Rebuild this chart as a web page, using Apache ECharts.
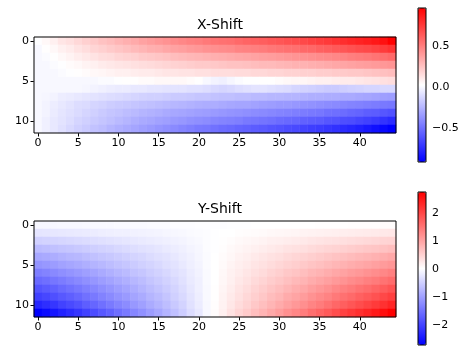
<!DOCTYPE html>
<html>
<head>
<meta charset="utf-8">
<script src="https://cdn.jsdelivr.net/npm/echarts@6/dist/echarts.min.js"></script>
<style>html,body{margin:0;padding:0;background:#fff}#c{width:474px;height:354px}</style>
</head>
<body>
<div id="c"></div>
<script>
const cols = ['0','1','2','3','4','5','6','7','8','9','10','11','12','13','14','15','16','17','18','19','20','21','22','23','24','25','26','27','28','29','30','31','32','33','34','35','36','37','38','39','40','41','42','43','44'];
const rows = ['0','1','2','3','4','5','6','7','8','9','10','11'];
const xTickLabels = ['0','5','10','15','20','25','30','35','40'];
const yTickLabels = ['0','5','10'];
const xShiftBarTicks = [-0.5, 0, 0.5];
const yShiftBarTicks = [-2, -1, 0, 1, 2];
const xShiftRange = [-0.92, 0.97];
const yShiftRange = [-2.7, 2.75];

const xShift = [
[0.02,0.05,0.08,0.12,0.14,0.17,0.2,0.22,0.25,0.27,0.3,0.32,0.34,0.37,0.39,0.41,0.43,0.45,0.47,0.49,0.5,0.52,0.54,0.55,0.56,0.58,0.6,0.61,0.62,0.64,0.65,0.67,0.68,0.7,0.72,0.74,0.76,0.78,0.8,0.82,0.84,0.86,0.88,0.91,0.97],
[0.0,0.03,0.05,0.08,0.1,0.13,0.15,0.18,0.2,0.22,0.24,0.26,0.28,0.3,0.32,0.33,0.35,0.37,0.38,0.4,0.41,0.43,0.44,0.45,0.46,0.48,0.49,0.5,0.51,0.53,0.54,0.55,0.56,0.58,0.59,0.61,0.62,0.64,0.65,0.67,0.69,0.7,0.72,0.75,0.78],
[0.0,0.01,0.03,0.05,0.07,0.09,0.11,0.13,0.15,0.16,0.18,0.19,0.2,0.22,0.23,0.24,0.25,0.27,0.28,0.29,0.3,0.31,0.32,0.33,0.34,0.35,0.36,0.37,0.38,0.39,0.4,0.41,0.42,0.43,0.44,0.45,0.46,0.47,0.48,0.5,0.51,0.52,0.54,0.56,0.58],
[0,0,0.01,0.02,0.04,0.05,0.07,0.08,0.1,0.11,0.12,0.13,0.14,0.15,0.16,0.17,0.18,0.19,0.2,0.21,0.22,0.22,0.23,0.24,0.25,0.25,0.26,0.27,0.28,0.28,0.29,0.3,0.31,0.31,0.32,0.33,0.34,0.35,0.36,0.37,0.38,0.39,0.4,0.41,0.42],
[0,0,0,0.01,0.02,0.03,0.04,0.05,0.06,0.07,0.08,0.08,0.09,0.1,0.1,0.11,0.12,0.12,0.13,0.13,0.14,0.14,0.15,0.15,0.15,0.16,0.16,0.17,0.17,0.18,0.18,0.19,0.19,0.2,0.2,0.21,0.21,0.22,0.22,0.23,0.23,0.24,0.25,0.26,0.27],
[0,0,0,0,0,0,0,0,0.01,0.01,0.02,0.03,0.03,0.04,0.04,0.05,0.05,0.05,0.05,0.04,0.03,0.0,-0.02,-0.03,-0.01,0.01,0.02,0.02,0.03,0.03,0.04,0.05,0.06,0.06,0.07,0.08,0.08,0.09,0.1,0.1,0.11,0.12,0.13,0.14,0.15],
[0,0,0,0,0,0,-0.01,-0.02,-0.03,-0.04,-0.05,-0.05,-0.06,-0.06,-0.07,-0.07,-0.08,-0.08,-0.08,-0.09,-0.09,-0.1,-0.12,-0.13,-0.12,-0.1,-0.09,-0.08,-0.08,-0.09,-0.1,-0.11,-0.13,-0.14,-0.15,-0.16,-0.17,-0.17,-0.16,-0.15,-0.14,-0.13,-0.13,-0.12,-0.12],
[0,-0.01,-0.02,-0.04,-0.05,-0.06,-0.07,-0.08,-0.09,-0.1,-0.11,-0.12,-0.13,-0.14,-0.15,-0.15,-0.16,-0.17,-0.17,-0.18,-0.19,-0.19,-0.2,-0.21,-0.21,-0.22,-0.22,-0.23,-0.23,-0.24,-0.24,-0.25,-0.25,-0.26,-0.27,-0.27,-0.28,-0.28,-0.29,-0.29,-0.3,-0.31,-0.32,-0.33,-0.34],
[0,-0.02,-0.04,-0.06,-0.08,-0.1,-0.11,-0.13,-0.14,-0.16,-0.17,-0.18,-0.19,-0.2,-0.21,-0.22,-0.23,-0.24,-0.25,-0.26,-0.27,-0.28,-0.28,-0.29,-0.3,-0.31,-0.31,-0.32,-0.33,-0.34,-0.35,-0.35,-0.36,-0.37,-0.38,-0.39,-0.4,-0.41,-0.42,-0.43,-0.44,-0.45,-0.46,-0.47,-0.48],
[0,-0.02,-0.05,-0.07,-0.09,-0.11,-0.13,-0.15,-0.17,-0.19,-0.2,-0.22,-0.23,-0.25,-0.26,-0.27,-0.29,-0.3,-0.31,-0.32,-0.33,-0.34,-0.35,-0.36,-0.37,-0.38,-0.39,-0.4,-0.41,-0.42,-0.43,-0.44,-0.45,-0.46,-0.47,-0.48,-0.5,-0.51,-0.52,-0.54,-0.55,-0.57,-0.58,-0.6,-0.62],
[0,-0.03,-0.06,-0.08,-0.1,-0.13,-0.15,-0.17,-0.19,-0.21,-0.23,-0.25,-0.27,-0.29,-0.3,-0.32,-0.33,-0.35,-0.36,-0.38,-0.39,-0.4,-0.42,-0.43,-0.44,-0.45,-0.47,-0.48,-0.49,-0.5,-0.52,-0.53,-0.54,-0.56,-0.57,-0.58,-0.6,-0.61,-0.63,-0.64,-0.66,-0.68,-0.7,-0.73,-0.76],
[0.0,-0.03,-0.06,-0.09,-0.12,-0.15,-0.17,-0.2,-0.22,-0.25,-0.27,-0.29,-0.31,-0.33,-0.35,-0.37,-0.39,-0.41,-0.43,-0.45,-0.47,-0.48,-0.5,-0.52,-0.53,-0.55,-0.56,-0.58,-0.59,-0.61,-0.62,-0.64,-0.65,-0.67,-0.69,-0.7,-0.72,-0.74,-0.76,-0.78,-0.8,-0.83,-0.86,-0.89,-0.92]
];

const yShift = [
[-0.06,-0.06,-0.06,-0.05,-0.05,-0.05,-0.04,-0.04,-0.04,-0.04,-0.03,-0.03,-0.03,-0.03,-0.02,-0.02,-0.02,-0.01,-0.01,-0.01,0,0,0,0,0.01,0.01,0.01,0.02,0.02,0.02,0.02,0.03,0.03,0.03,0.03,0.04,0.04,0.04,0.04,0.05,0.05,0.05,0.05,0.06,0.06],
[-0.25,-0.24,-0.23,-0.22,-0.21,-0.2,-0.19,-0.18,-0.16,-0.15,-0.14,-0.13,-0.12,-0.11,-0.1,-0.09,-0.07,-0.06,-0.05,-0.03,-0.02,-0.01,0.01,0.02,0.03,0.05,0.06,0.07,0.08,0.1,0.11,0.12,0.13,0.15,0.16,0.17,0.18,0.2,0.21,0.22,0.23,0.24,0.25,0.27,0.28],
[-0.47,-0.45,-0.43,-0.41,-0.39,-0.37,-0.35,-0.33,-0.31,-0.29,-0.26,-0.24,-0.22,-0.2,-0.18,-0.16,-0.14,-0.11,-0.09,-0.06,-0.04,-0.01,0.01,0.04,0.06,0.09,0.11,0.13,0.15,0.18,0.2,0.22,0.24,0.26,0.29,0.31,0.33,0.35,0.37,0.39,0.41,0.43,0.45,0.48,0.5],
[-0.7,-0.67,-0.64,-0.61,-0.58,-0.55,-0.52,-0.49,-0.46,-0.43,-0.39,-0.36,-0.33,-0.3,-0.27,-0.24,-0.2,-0.17,-0.13,-0.09,-0.06,-0.01,0.01,0.05,0.09,0.12,0.15,0.19,0.22,0.25,0.28,0.32,0.35,0.37,0.41,0.44,0.47,0.5,0.53,0.56,0.59,0.62,0.65,0.68,0.72],
[-0.92,-0.88,-0.85,-0.8,-0.76,-0.73,-0.68,-0.64,-0.6,-0.56,-0.52,-0.48,-0.43,-0.4,-0.35,-0.31,-0.27,-0.22,-0.17,-0.12,-0.07,-0.02,0.02,0.07,0.11,0.16,0.2,0.25,0.29,0.33,0.37,0.42,0.46,0.49,0.54,0.58,0.62,0.67,0.7,0.74,0.78,0.82,0.86,0.9,0.95],
[-1.12,-1.08,-1.03,-0.97,-0.93,-0.88,-0.83,-0.78,-0.73,-0.68,-0.63,-0.58,-0.53,-0.48,-0.43,-0.38,-0.32,-0.27,-0.21,-0.15,-0.09,-0.02,0.02,0.08,0.14,0.2,0.24,0.3,0.35,0.4,0.45,0.51,0.55,0.6,0.66,0.7,0.75,0.81,0.85,0.9,0.94,0.99,1.04,1.09,1.15],
[-1.35,-1.3,-1.24,-1.17,-1.12,-1.07,-1.0,-0.95,-0.88,-0.82,-0.76,-0.7,-0.63,-0.58,-0.51,-0.46,-0.39,-0.32,-0.26,-0.18,-0.11,-0.03,0.03,0.1,0.17,0.23,0.29,0.36,0.41,0.48,0.54,0.61,0.66,0.72,0.79,0.84,0.9,0.97,1.02,1.08,1.13,1.19,1.24,1.31,1.38],
[-1.57,-1.51,-1.44,-1.37,-1.3,-1.24,-1.16,-1.1,-1.02,-0.96,-0.88,-0.82,-0.74,-0.68,-0.6,-0.53,-0.46,-0.38,-0.3,-0.2,-0.13,-0.03,0.03,0.11,0.19,0.27,0.34,0.42,0.48,0.56,0.62,0.7,0.77,0.83,0.91,0.98,1.04,1.12,1.18,1.25,1.31,1.38,1.44,1.52,1.6],
[-1.8,-1.73,-1.66,-1.57,-1.49,-1.42,-1.33,-1.26,-1.17,-1.1,-1.01,-0.94,-0.85,-0.77,-0.68,-0.61,-0.52,-0.43,-0.34,-0.23,-0.14,-0.04,0.04,0.13,0.22,0.31,0.39,0.48,0.56,0.65,0.72,0.81,0.89,0.96,1.05,1.13,1.2,1.3,1.37,1.44,1.52,1.59,1.67,1.76,1.85],
[-2.02,-1.94,-1.86,-1.76,-1.68,-1.6,-1.49,-1.41,-1.31,-1.23,-1.13,-1.05,-0.95,-0.87,-0.77,-0.69,-0.59,-0.48,-0.38,-0.26,-0.16,-0.04,0.04,0.15,0.25,0.35,0.44,0.54,0.62,0.73,0.81,0.92,1.0,1.08,1.19,1.27,1.35,1.46,1.54,1.62,1.71,1.79,1.87,1.98,2.08],
[-2.3,-2.21,-2.12,-2.0,-1.91,-1.82,-1.7,-1.61,-1.5,-1.4,-1.29,-1.2,-1.08,-0.99,-0.87,-0.78,-0.67,-0.55,-0.44,-0.3,-0.18,-0.05,0.05,0.16,0.28,0.4,0.49,0.61,0.71,0.82,0.92,1.03,1.13,1.22,1.34,1.43,1.53,1.65,1.74,1.83,1.93,2.02,2.12,2.23,2.35],
[-2.7,-2.59,-2.48,-2.35,-2.24,-2.13,-2.0,-1.89,-1.76,-1.65,-1.51,-1.4,-1.27,-1.16,-1.03,-0.92,-0.78,-0.65,-0.51,-0.35,-0.22,-0.05,0.06,0.19,0.33,0.47,0.58,0.72,0.83,0.96,1.07,1.21,1.32,1.43,1.57,1.68,1.79,1.93,2.04,2.15,2.26,2.37,2.48,2.61,2.75]
];

function toCells(m) {
  const out = [];
  m.forEach((row, r) => row.forEach((v, c) => out.push([c, r, v])));
  return out;
}
const FONT = 'DejaVu Sans';
const minus = s => String(s).replace('-', '\u2212');
const bwr = ['#0000ff', '#ffffff', '#ff0000'];

function catX(gi) {
  return {
    type: 'category', gridIndex: gi, data: cols, boundaryGap: true,
    axisLine: { show: false },
    axisTick: { show: true, alignWithLabel: true, length: 3.5, interval: (i, v) => xTickLabels.includes(v), lineStyle: { color: '#000', width: 1 } },
    axisLabel: { interval: (i, v) => xTickLabels.includes(v), color: '#000', fontFamily: FONT, fontSize: 11, margin: 5 },
    splitLine: { show: false }
  };
}
function catY(gi) {
  return {
    type: 'category', gridIndex: gi, data: rows, inverse: true, boundaryGap: true,
    axisLine: { show: false },
    axisTick: { show: true, alignWithLabel: true, length: 3.5, interval: (i, v) => yTickLabels.includes(v), lineStyle: { color: '#000', width: 1 } },
    axisLabel: { interval: (i, v) => yTickLabels.includes(v), color: '#000', fontFamily: FONT, fontSize: 11, margin: 5 },
    splitLine: { show: false }
  };
}
function barY(gi, range, ticks, fmt) {
  return {
    type: 'value', gridIndex: gi, min: range[0], max: range[1], position: 'right',
    axisLine: { show: false },
    axisTick: { show: true, length: 3.5, customValues: ticks, lineStyle: { color: '#000' } },
    axisLabel: { customValues: ticks, formatter: fmt, color: '#000', fontFamily: FONT, fontSize: 11, margin: 6 },
    splitLine: { show: false }
  };
}

const chart = echarts.init(document.getElementById('c'), null, { renderer: 'canvas' });
chart.setOption({
  animation: false,
  backgroundColor: '#fff',
  textStyle: { fontFamily: FONT },
  title: [
    { text: 'X-Shift', left: 215, top: 13, textAlign: 'center', textStyle: { fontFamily: FONT, fontSize: 14, fontWeight: 'normal', color: '#000' } },
    { text: 'Y-Shift', left: 215, top: 197, textAlign: 'center', textStyle: { fontFamily: FONT, fontSize: 14, fontWeight: 'normal', color: '#000' } }
  ],
  grid: [
    { left: 34, top: 37, width: 362, height: 96, show: true, z: 10, backgroundColor: 'transparent', borderColor: '#000', borderWidth: 1 },
    { left: 34, top: 221, width: 362, height: 96, show: true, z: 10, backgroundColor: 'transparent', borderColor: '#000', borderWidth: 1 },
    { left: 418, top: 8, width: 8, height: 154, show: true, z: 10, backgroundColor: 'transparent', borderColor: '#000', borderWidth: 1 },
    { left: 418, top: 192, width: 8, height: 153, show: true, z: 10, backgroundColor: 'transparent', borderColor: '#000', borderWidth: 1 }
  ],
  xAxis: [catX(0), catX(1),
    { type: 'value', gridIndex: 2, show: false },
    { type: 'value', gridIndex: 3, show: false }],
  yAxis: [catY(0), catY(1),
    barY(2, xShiftRange, xShiftBarTicks, v => minus(Number(v).toFixed(1))),
    barY(3, yShiftRange, yShiftBarTicks, v => minus(Math.round(v)))],
  visualMap: [
    { type: 'continuous', seriesIndex: 0, min: xShiftRange[0], max: xShiftRange[1], inRange: { color: bwr },
      orient: 'vertical', left: 418, top: 8, itemWidth: 8, itemHeight: 154, padding: 0, calculable: false, hoverLink: false, z: 4 },
    { type: 'continuous', seriesIndex: 1, min: yShiftRange[0], max: yShiftRange[1], inRange: { color: bwr },
      orient: 'vertical', left: 418, top: 192, itemWidth: 8, itemHeight: 153, padding: 0, calculable: false, hoverLink: false, z: 4 }
  ],
  series: [
    { type: 'heatmap', xAxisIndex: 0, yAxisIndex: 0, data: toCells(xShift), itemStyle: { borderWidth: 0 }, emphasis: { disabled: true }, progressive: 0 },
    { type: 'heatmap', xAxisIndex: 1, yAxisIndex: 1, data: toCells(yShift), itemStyle: { borderWidth: 0 }, emphasis: { disabled: true }, progressive: 0 }
  ]
});
</script>
</body>
</html>
